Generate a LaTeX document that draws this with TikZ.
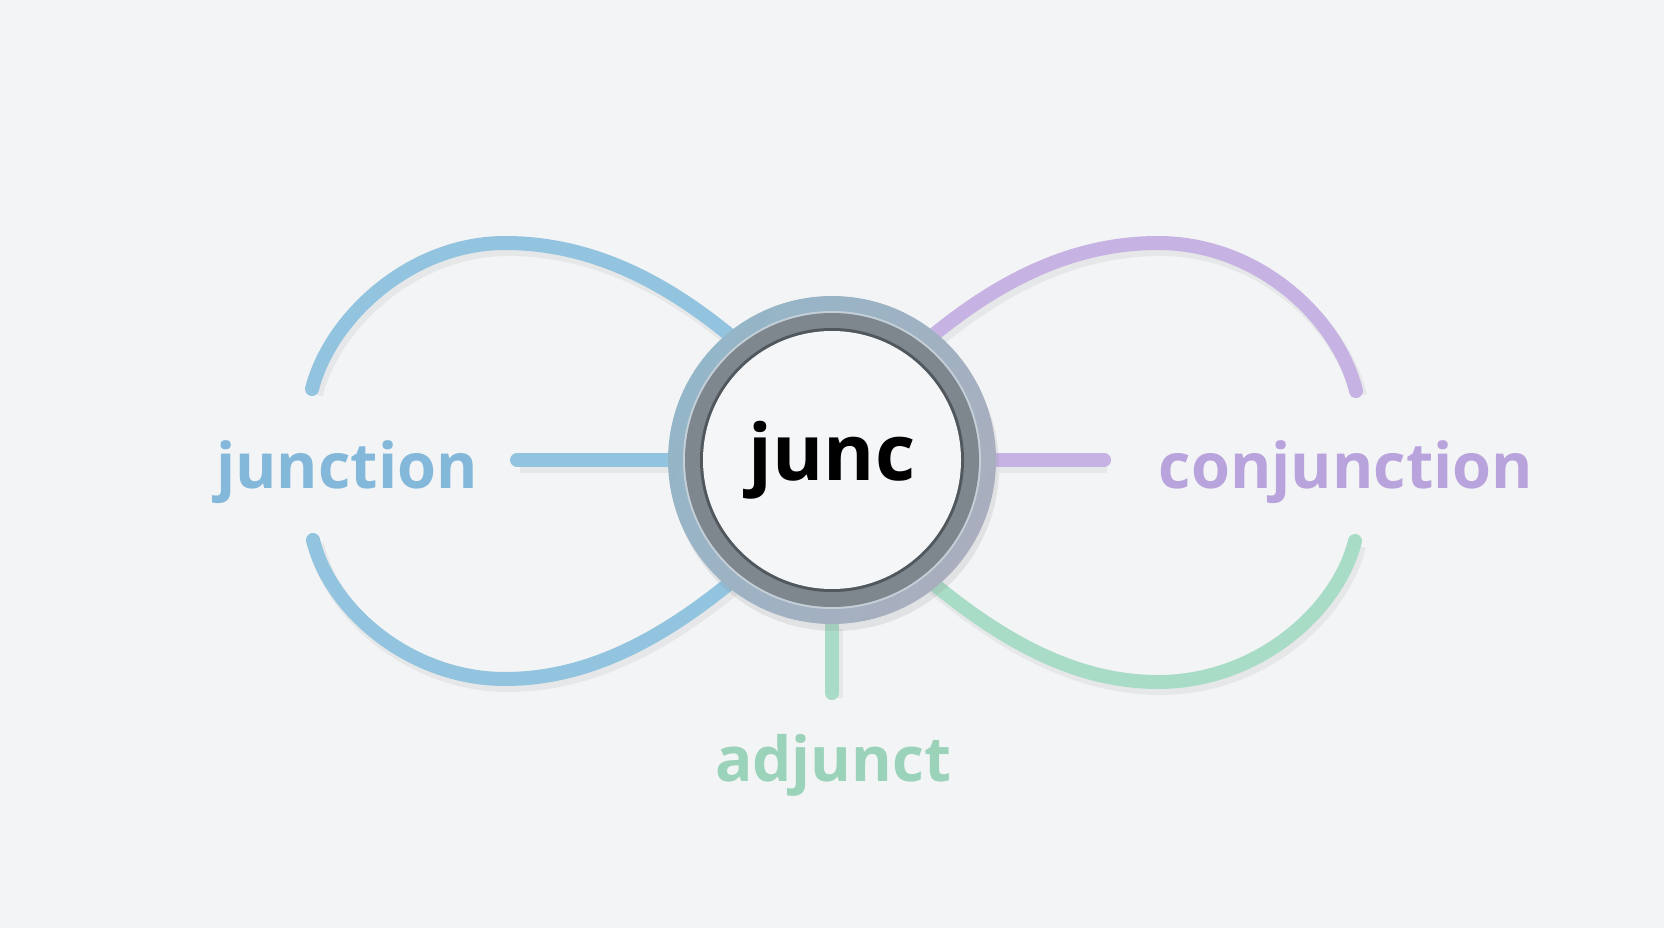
\documentclass[tikz,border=0pt]{standalone}
\usepackage{fontspec}
\setmainfont{Open Sans}
\usepackage{tikz}
\usetikzlibrary{positioning,shadows}
\pgfdeclarelayer{background}
\pgfsetlayers{background,main}

\definecolor{bg}{HTML}{F3F4F5}
\definecolor{arcblue}{HTML}{92C4E0}
\definecolor{arcviolet}{HTML}{C7B3E3}
\definecolor{arcmint}{HTML}{A9DCC6}
\definecolor{txtblue}{HTML}{84B8DA}
\definecolor{txtviolet}{HTML}{B9A3DC}
\definecolor{txtmint}{HTML}{9BD3BA}
\definecolor{ringblue}{HTML}{93B6C8}
\definecolor{ringlav}{HTML}{AAAEBE}
\definecolor{ringgray}{HTML}{7E868E}
\definecolor{ringdark}{HTML}{50575D}
\definecolor{ringhl}{HTML}{C4CFD8}
\definecolor{disc}{HTML}{F5F6F7}

\begin{document}
\begin{tikzpicture}[x=1pt,y=1pt,yscale=-1,xscale=1,
  loop/.style={line width=14pt, line cap=round,
    preaction={draw=black, opacity=0.05, line width=16pt, transform canvas={shift={(3pt,-5pt)}}}},
  stub/.style={line width=14pt, line cap=round,
    preaction={draw=black, opacity=0.05, line width=16pt, transform canvas={shift={(3pt,-5pt)}}}},
  hub/.style={circle, minimum size=328pt, inner sep=0pt,
    left color=ringblue, right color=ringlav, shading angle=60,
    drop shadow={opacity=0.15, shadow xshift=3pt, shadow yshift=-7pt},
    path picture={
      \fill[ringhl] (path picture bounding box.center) circle (149);
      \fill[ringgray] (path picture bounding box.center) circle (147);
      \fill[ringdark] (path picture bounding box.center) circle (132);
      \fill[disc] (path picture bounding box.center) circle (129);
    }},
  word/.style={anchor=base, font=\bfseries\fontsize{63}{63}\selectfont}
]

\begin{pgfonlayer}{background}
%Shape: Rectangle
\fill[bg] (0,0) rectangle (1664,928);
\end{pgfonlayer}

%Shape: Circle
\node[hub] (junc) at (832,460) {\raisebox{-9pt}{\fontsize{78}{78}\selectfont\bfseries junc}};

% Text Node
\node[word, txtblue] (jword) at (347,488) {junction};
% Text Node
\node[word, txtviolet] (cword) at (1346,488) {conjunction};
% Text Node
\node[word, txtmint, font=\bfseries\fontsize{62}{62}\selectfont] (aword) at (833,781) {adjunct};

\coordinate (jend) at (517,460);
\coordinate (cend) at (1104,460);
\coordinate (aend) at (832,693);

\begin{pgfonlayer}{background}
%Shape: Arc
\draw[loop, arcblue] (312,389) .. controls (330,318) and (410,243) .. (505,243) .. controls (610,243) and (700,300) .. (790,390);
%Shape: Arc
\draw[loop, arcblue] (313,540) .. controls (330,610) and (410,679) .. (505,679) .. controls (610,679) and (700,615) .. (790,530);
%Shape: Arc
\draw[loop, arcviolet] (1356,391) .. controls (1338,318) and (1258,243) .. (1158,243) .. controls (1053,243) and (963,300) .. (873,390);
%Shape: Arc
\draw[loop, arcmint] (1355,541) .. controls (1338,610) and (1258,682) .. (1158,682) .. controls (1053,682) and (963,615) .. (873,530);

\draw[stub, arcblue] (junc.west) -- (jend);
\draw[stub, arcviolet] (junc.east) -- (cend);
\draw[stub, arcmint] (junc.south) -- (aend);
\end{pgfonlayer}

\end{tikzpicture}
\end{document}
